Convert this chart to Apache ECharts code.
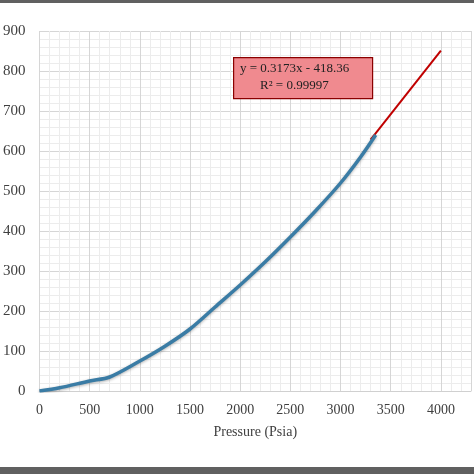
<!DOCTYPE html>
<html><head><meta charset="utf-8">
<script src="https://cdn.jsdelivr.net/npm/echarts@6/dist/echarts.min.js"></script>
<style>html,body{margin:0;padding:0;background:#fff}#c{width:474px;height:474px}</style>
</head><body><div id="c"></div>
<script>
const pressure = [0, 200, 500, 700, 1000, 1250, 1500, 1750, 2000, 2250, 2500, 2750, 3000, 3200, 3350];
const values = [0, 8, 25, 35, 75, 112, 155, 210, 265, 323, 385, 450, 520, 585, 640];
const fitX = [3300, 4000];
const fitY = fitX.map(x => 0.3173 * x - 418.36);
const xTicks = [0, 500, 1000, 1500, 2000, 2500, 3000, 3500, 4000];
const eqText = ['y = 0.3173x - 418.36', 'R² = 0.99997'];

const chart = echarts.init(document.getElementById('c'));
const font = 'Liberation Serif';
const minorLine = {show: true, lineStyle: {color: '#ececec', width: 1}};
chart.setOption({
  animation: false,
  grid: {left: 36, right: 0, top: 31, bottom: 83},
  xAxis: {type: 'value', min: 0, max: 4300, interval: 500,
    name: 'Pressure (Psia)', nameLocation: 'middle', nameGap: 34,
    nameTextStyle: {fontFamily: font, fontSize: 14, color: '#404040', padding: [0, 0, 0, 0]},
    axisLine: {show: true, lineStyle: {color: '#d0d0d0'}}, axisTick: {show: false},
    axisLabel: {fontFamily: font, fontSize: 14, color: '#404040', margin: 12,
      formatter: v => xTicks.includes(v) ? String(v) : ''},
    splitLine: {lineStyle: {color: '#d6d6d6'}},
    minorTick: {show: false, splitNumber: 5}, minorSplitLine: minorLine},
  yAxis: {type: 'value', min: 0, max: 900, interval: 100,
    axisLine: {show: false}, axisTick: {show: false},
    axisLabel: {fontFamily: font, fontSize: 15, color: '#404040', margin: 14},
    splitLine: {lineStyle: {color: '#d6d6d6'}},
    minorTick: {show: false, splitNumber: 5}, minorSplitLine: minorLine},
  series: [
    {type: 'line', data: fitX.map((x, i) => [x, fitY[i]]), symbol: 'none', z: 2,
      lineStyle: {color: '#c00000', width: 2}},
    {type: 'line', data: pressure.map((x, i) => [x, values[i]]), symbol: 'none', smooth: 0.3, z: 3,
      lineStyle: {color: '#3a7ca5', width: 3.5, shadowColor: 'rgba(0,0,0,0.3)', shadowBlur: 3, shadowOffsetY: 1}}
  ],
  graphic: [
    {type: 'rect', left: 0, top: 0, shape: {width: 474, height: 3}, style: {fill: '#606060'}},
    {type: 'rect', left: 0, top: 467, shape: {width: 474, height: 7}, style: {fill: '#606060'}},
    {type: 'rect', left: 233, top: 57, shape: {width: 139, height: 41},
      style: {fill: '#f08a8f', stroke: '#8b0000', lineWidth: 1.2}, z: 10},
    {type: 'text', left: 240, top: 62, z: 11,
      style: {text: eqText[0], font: '13px "Liberation Serif"', fill: '#222'}},
    {type: 'text', left: 260, top: 79, z: 11,
      style: {text: eqText[1], font: '13px "Liberation Serif"', fill: '#222'}}
  ]
});
</script></body></html>
